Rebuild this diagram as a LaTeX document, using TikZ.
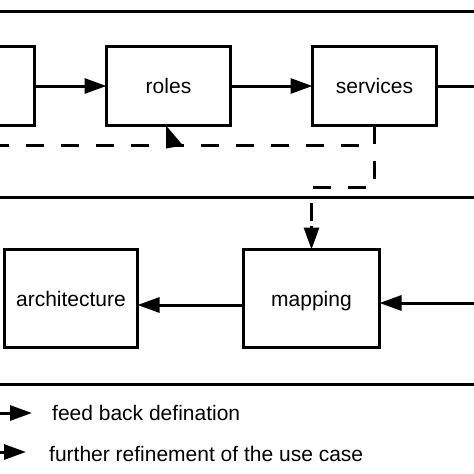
\documentclass[tikz,border=0pt]{standalone}
\usepackage{fontspec}
\setmainfont{Liberation Sans}
\usetikzlibrary{arrows.meta}
\begin{document}
\begin{tikzpicture}[x=1pt,y=-1pt,
  every node/.style={font=\fontsize{21}{25}\selectfont},
  box/.style={draw,line width=3pt,minimum width=124pt,minimum height=79pt,inner sep=0pt,outer sep=0pt,text height=15pt,text depth=0pt},
  bigbox/.style={draw,line width=3pt,minimum height=98pt,inner sep=0pt,outer sep=0pt,text height=15pt,text depth=0pt},
  conn/.style={line width=3pt,-{Triangle[length=22pt,width=15pt]}},
  dconn/.style={line width=3pt,dash pattern=on 18pt off 17pt},
  sep/.style={line width=3pt}]
\useasboundingbox (0,0) rectangle (474,474);
% separators
\draw[sep] (-5,11) -- (480,11);
\draw[sep] (-5,197) -- (480,197);
\draw[sep] (-5,384) -- (480,384);
% top row
\node[box] (left) at (-27.5,86) {};
\node[box] (roles) at (168.5,86) {roles};
\node[box] (services) at (374.5,86) {services};
\coordinate (rightout) at (480,86);
\draw[conn] (left) -- (roles);
\draw[conn] (roles) -- (services);
\draw[line width=3pt] (services) -- (rightout);
% dashed feedback
\coordinate (fbleft) at (-5,145);
\draw[dconn] (services.south) -- (services.south |- fbleft) -- (fbleft);
\fill (roles.south) ++(-2.5,0) -- ++(0,23) -- ++(17,-3) -- cycle;
% bottom row
\node[bigbox,minimum width=133pt] (arch) at (71,298.5) {architecture};
\node[bigbox,minimum width=136pt] (mapping) at (311.5,298.5) {mapping};
\coordinate (bend) at (0,187);
\draw[dconn] (services.south) -- (services.south |- bend) -- (mapping.north |- bend) -- ([yshift=22pt]mapping.north);
\draw[conn] ([yshift=24pt]mapping.north) -- (mapping.north);
\coordinate (inright) at (480,303);
\draw[conn] (inright) -- (mapping.east |- inright);
\coordinate (archy) at (0,305);
\draw[conn] (mapping.west |- archy) -- (arch.east |- archy);
% legend
\coordinate (l1a) at (-2,413);
\coordinate (l1b) at (32,413);
\coordinate (l2a) at (-2,452);
\coordinate (l2b) at (26,452);
\draw[conn] (l1a) -- (l1b);
\draw[conn] (l2a) -- (l2b);
\node[anchor=west,inner sep=0pt] (t1) at (52,413) {feed back defination};
\node[anchor=west,inner sep=0pt] (t2) at (49,454) {further refinement of the use case};
\end{tikzpicture}
\end{document}
